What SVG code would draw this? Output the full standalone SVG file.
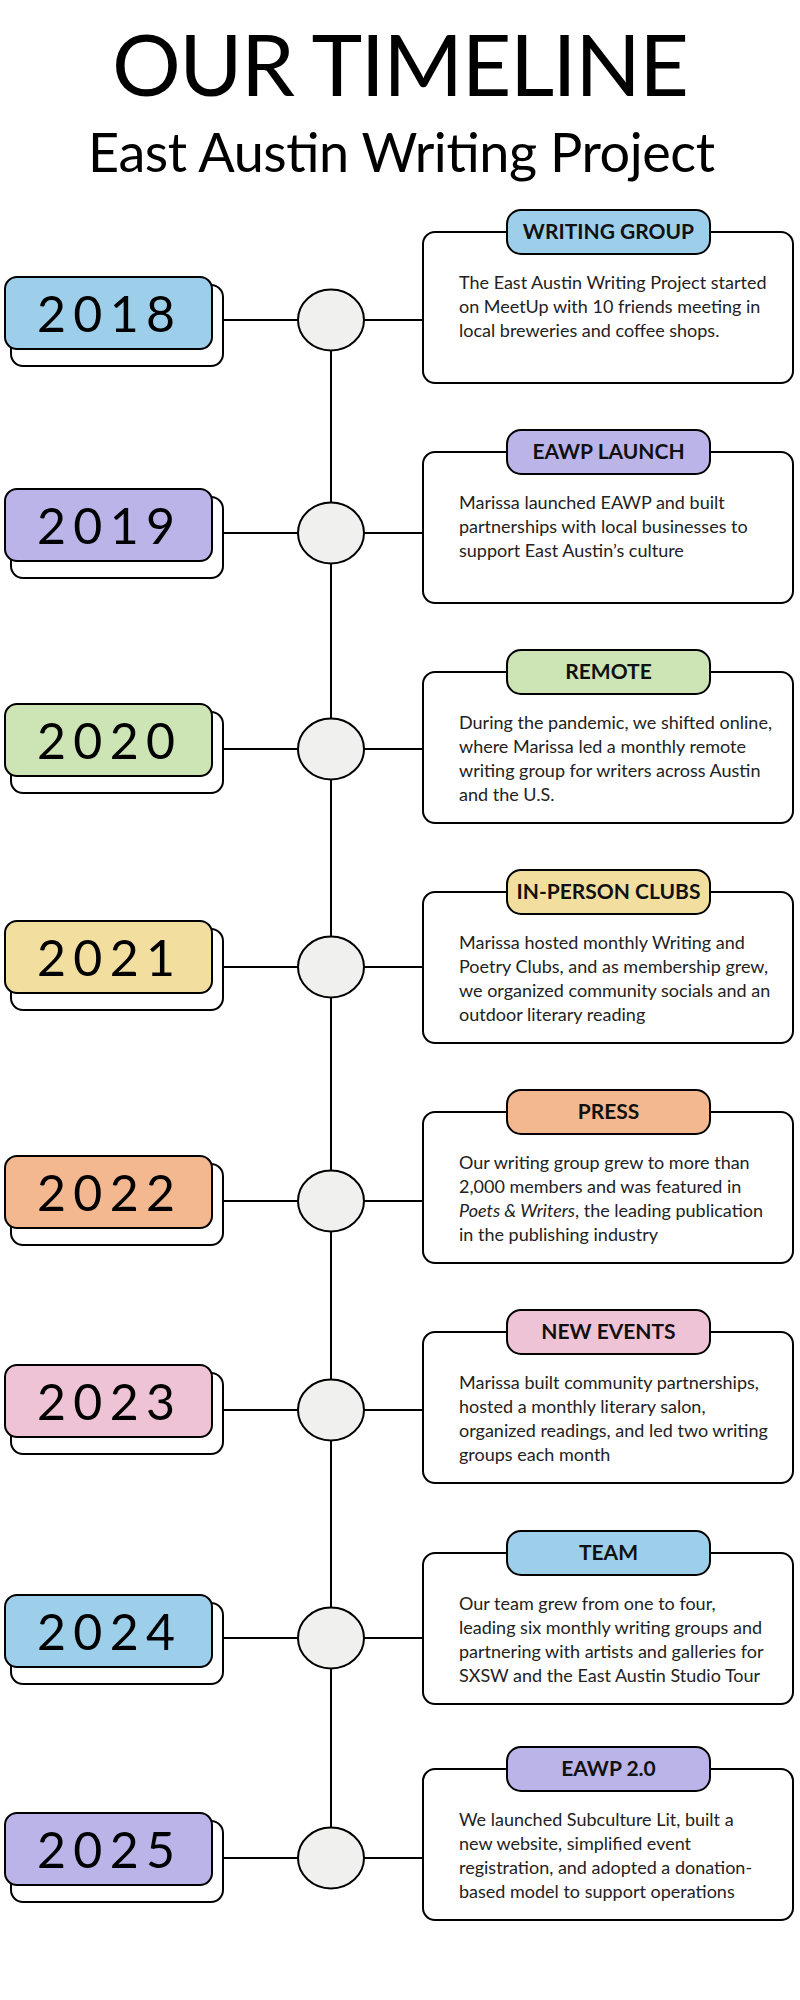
<svg xmlns="http://www.w3.org/2000/svg" width="800" height="2000" viewBox="0 0 800 2000">
<style>
.bg{fill:#ffffff}
.title{font-family:Lato,"Liberation Sans",sans-serif;font-size:86px;fill:#000}
.sub{font-family:Lato,"Liberation Sans",sans-serif;font-size:54px;fill:#000}
.back{fill:#ffffff;stroke:#000;stroke-width:2}
.front{stroke:#000;stroke-width:2}
.year{font-family:Lato,"Liberation Sans",sans-serif;font-size:50px;fill:#000}
.dot{fill:#f0f0ee;stroke:#000;stroke-width:2}
.card{fill:#ffffff;stroke:#000;stroke-width:2}
.tag{stroke:#000;stroke-width:2}
.tagt{font-family:Lato,"Liberation Sans",sans-serif;font-size:21px;font-weight:bold;fill:#111;text-anchor:middle}
.body{font-family:Lato,"Liberation Sans",sans-serif;font-size:18px;fill:#222}
.conn line{stroke:#000;stroke-width:2}
.blue{fill:#9ecfea}.purple{fill:#bbb4e9}.green{fill:#cde4b4}.yellow{fill:#f2dfa0}.orange{fill:#f3b890}.pink{fill:#efc3d6}
</style>
<rect class="bg" x="0" y="0" width="800" height="2000"/>
<g id="header">
<text class="title" x="112" y="96" textLength="577" lengthAdjust="spacing">OUR TIMELINE</text>
<text class="sub" x="88" y="172" textLength="627" lengthAdjust="spacing">East Austin Writing Project</text>
</g>
<g id="connectors" class="conn">
<line x1="331" y1="350" x2="331" y2="1828"/>
<line x1="223" y1="320" x2="298" y2="320"/><line x1="364" y1="320" x2="423" y2="320"/>
<line x1="223" y1="533" x2="298" y2="533"/><line x1="364" y1="533" x2="423" y2="533"/>
<line x1="223" y1="749" x2="298" y2="749"/><line x1="364" y1="749" x2="423" y2="749"/>
<line x1="223" y1="967" x2="298" y2="967"/><line x1="364" y1="967" x2="423" y2="967"/>
<line x1="223" y1="1201" x2="298" y2="1201"/><line x1="364" y1="1201" x2="423" y2="1201"/>
<line x1="223" y1="1410" x2="298" y2="1410"/><line x1="364" y1="1410" x2="423" y2="1410"/>
<line x1="223" y1="1638" x2="298" y2="1638"/><line x1="364" y1="1638" x2="423" y2="1638"/>
<line x1="223" y1="1858" x2="298" y2="1858"/><line x1="364" y1="1858" x2="423" y2="1858"/>
</g>

<g id="y2018">
<rect class="back" x="11" y="285" width="212" height="81" rx="12"/>
<rect class="front blue" x="5" y="277" width="207" height="72" rx="12"/>
<text class="year" x="37" y="332" textLength="138" lengthAdjust="spacing">2018</text>
</g>
<g id="dot2018"><ellipse class="dot" cx="331" cy="320" rx="33" ry="30.5"/></g>
<g id="card2018">
<rect class="card" x="423" y="232" width="370" height="151" rx="12"/>
<rect class="tag blue" x="507" y="210" width="203" height="44" rx="14"/>
<text class="tagt" x="608.5" y="239">WRITING GROUP</text>
<text class="body" x="459" y="289">The East Austin Writing Project started</text>
<text class="body" x="459" y="313">on MeetUp with 10 friends meeting in</text>
<text class="body" x="459" y="337">local breweries and coffee shops.</text>
</g>

<g id="y2019">
<rect class="back" x="11" y="497" width="212" height="81" rx="12"/>
<rect class="front purple" x="5" y="489" width="207" height="72" rx="12"/>
<text class="year" x="37" y="544" textLength="138" lengthAdjust="spacing">2019</text>
</g>
<g id="dot2019"><ellipse class="dot" cx="331" cy="533" rx="33" ry="30.5"/></g>
<g id="card2019">
<rect class="card" x="423" y="452" width="370" height="151" rx="12"/>
<rect class="tag purple" x="507" y="430" width="203" height="44" rx="14"/>
<text class="tagt" x="608.5" y="459">EAWP LAUNCH</text>
<text class="body" x="459" y="509">Marissa launched EAWP and built</text>
<text class="body" x="459" y="533">partnerships with local businesses to</text>
<text class="body" x="459" y="557">support East Austin’s culture</text>
</g>

<g id="y2020">
<rect class="back" x="11" y="712" width="212" height="81" rx="12"/>
<rect class="front green" x="5" y="704" width="207" height="72" rx="12"/>
<text class="year" x="37" y="759" textLength="138" lengthAdjust="spacing">2020</text>
</g>
<g id="dot2020"><ellipse class="dot" cx="331" cy="749" rx="33" ry="30.5"/></g>
<g id="card2020">
<rect class="card" x="423" y="672" width="370" height="151" rx="12"/>
<rect class="tag green" x="507" y="650" width="203" height="44" rx="14"/>
<text class="tagt" x="608.5" y="679">REMOTE</text>
<text class="body" x="459" y="729">During the pandemic, we shifted online,</text>
<text class="body" x="459" y="753">where Marissa led a monthly remote</text>
<text class="body" x="459" y="777">writing group for writers across Austin</text>
<text class="body" x="459" y="801">and the U.S.</text>
</g>

<g id="y2021">
<rect class="back" x="11" y="929" width="212" height="81" rx="12"/>
<rect class="front yellow" x="5" y="921" width="207" height="72" rx="12"/>
<text class="year" x="37" y="976" textLength="138" lengthAdjust="spacing">2021</text>
</g>
<g id="dot2021"><ellipse class="dot" cx="331" cy="967" rx="33" ry="30.5"/></g>
<g id="card2021">
<rect class="card" x="423" y="892" width="370" height="151" rx="12"/>
<rect class="tag yellow" x="507" y="870" width="203" height="44" rx="14"/>
<text class="tagt" x="608.5" y="899">IN-PERSON CLUBS</text>
<text class="body" x="459" y="949">Marissa hosted monthly Writing and</text>
<text class="body" x="459" y="973">Poetry Clubs, and as membership grew,</text>
<text class="body" x="459" y="997">we organized community socials and an</text>
<text class="body" x="459" y="1021">outdoor literary reading</text>
</g>

<g id="y2022">
<rect class="back" x="11" y="1164" width="212" height="81" rx="12"/>
<rect class="front orange" x="5" y="1156" width="207" height="72" rx="12"/>
<text class="year" x="37" y="1211" textLength="138" lengthAdjust="spacing">2022</text>
</g>
<g id="dot2022"><ellipse class="dot" cx="331" cy="1201" rx="33" ry="30.5"/></g>
<g id="card2022">
<rect class="card" x="423" y="1112" width="370" height="151" rx="12"/>
<rect class="tag orange" x="507" y="1090" width="203" height="44" rx="14"/>
<text class="tagt" x="608.5" y="1119">PRESS</text>
<text class="body" x="459" y="1169">Our writing group grew to more than</text>
<text class="body" x="459" y="1193">2,000 members and was featured in</text>
<text class="body" x="459" y="1217"><tspan font-style="italic">Poets &amp; Writers</tspan>, the leading publication</text>
<text class="body" x="459" y="1241">in the publishing industry</text>
</g>

<g id="y2023">
<rect class="back" x="11" y="1373" width="212" height="81" rx="12"/>
<rect class="front pink" x="5" y="1365" width="207" height="72" rx="12"/>
<text class="year" x="37" y="1420" textLength="138" lengthAdjust="spacing">2023</text>
</g>
<g id="dot2023"><ellipse class="dot" cx="331" cy="1410" rx="33" ry="30.5"/></g>
<g id="card2023">
<rect class="card" x="423" y="1332" width="370" height="151" rx="12"/>
<rect class="tag pink" x="507" y="1310" width="203" height="44" rx="14"/>
<text class="tagt" x="608.5" y="1339">NEW EVENTS</text>
<text class="body" x="459" y="1389">Marissa built community partnerships,</text>
<text class="body" x="459" y="1413">hosted a monthly literary salon,</text>
<text class="body" x="459" y="1437">organized readings, and led two writing</text>
<text class="body" x="459" y="1461">groups each month</text>
</g>

<g id="y2024">
<rect class="back" x="11" y="1603" width="212" height="81" rx="12"/>
<rect class="front blue" x="5" y="1595" width="207" height="72" rx="12"/>
<text class="year" x="37" y="1650" textLength="138" lengthAdjust="spacing">2024</text>
</g>
<g id="dot2024"><ellipse class="dot" cx="331" cy="1638" rx="33" ry="30.5"/></g>
<g id="card2024">
<rect class="card" x="423" y="1553" width="370" height="151" rx="12"/>
<rect class="tag blue" x="507" y="1531" width="203" height="44" rx="14"/>
<text class="tagt" x="608.5" y="1560">TEAM</text>
<text class="body" x="459" y="1610">Our team grew from one to four,</text>
<text class="body" x="459" y="1634">leading six monthly writing groups and</text>
<text class="body" x="459" y="1658">partnering with artists and galleries for</text>
<text class="body" x="459" y="1682">SXSW and the East Austin Studio Tour</text>
</g>

<g id="y2025">
<rect class="back" x="11" y="1821" width="212" height="81" rx="12"/>
<rect class="front purple" x="5" y="1813" width="207" height="72" rx="12"/>
<text class="year" x="37" y="1868" textLength="138" lengthAdjust="spacing">2025</text>
</g>
<g id="dot2025"><ellipse class="dot" cx="331" cy="1858" rx="33" ry="30.5"/></g>
<g id="card2025">
<rect class="card" x="423" y="1769" width="370" height="151" rx="12"/>
<rect class="tag purple" x="507" y="1747" width="203" height="44" rx="14"/>
<text class="tagt" x="608.5" y="1776">EAWP 2.0</text>
<text class="body" x="459" y="1826">We launched Subculture Lit, built a</text>
<text class="body" x="459" y="1850">new website, simplified event</text>
<text class="body" x="459" y="1874">registration, and adopted a donation-</text>
<text class="body" x="459" y="1898">based model to support operations</text>
</g>
</svg>
